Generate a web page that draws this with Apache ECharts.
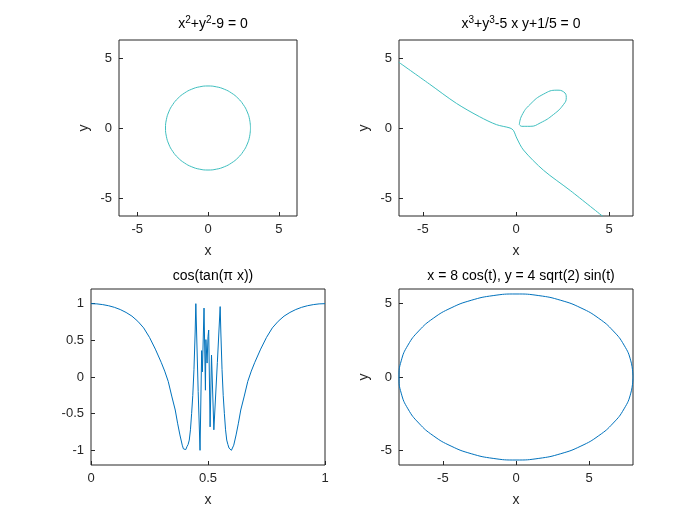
<!DOCTYPE html>
<html>
<head>
<meta charset="utf-8">
<script src="https://cdn.jsdelivr.net/npm/echarts@6/dist/echarts.min.js"></script>
<style>
html, body { margin: 0; padding: 0; background: #fff; }
#main { width: 700px; height: 525px; }
</style>
</head>
<body>
<div id="main"></div>
<script>
var circlePts = [[3, 0], [2.94, 0.59], [2.77, 1.15], [2.49, 1.67], [2.12, 2.12], [1.67, 2.49], [1.15, 2.77], [0.59, 2.94],
    [0, 3], [-0.59, 2.94], [-1.15, 2.77], [-1.67, 2.49], [-2.12, 2.12], [-2.49, 1.67], [-2.77, 1.15], [-2.94, 0.59],
    [-3, 0], [-2.94, -0.59], [-2.77, -1.15], [-2.49, -1.67], [-2.12, -2.12], [-1.67, -2.49], [-1.15, -2.77], [-0.59, -2.94],
    [0, -3], [0.59, -2.94], [1.15, -2.77], [1.67, -2.49], [2.12, -2.12], [2.49, -1.67], [2.77, -1.15], [2.94, -0.59], [3, 0]];
var foliumBranch = [[-6.3, 4.7], [-4.65, 3.14], [-3.2, 1.76], [-1.95, 0.8], [-1.05, 0.24], [-0.32, 0], [-0.14, -0.17],
    [0.04, -0.72], [0.4, -1.57], [1.48, -3.02], [2.92, -4.47], [4.68, -6.33]];
var foliumLoop = [[0.18, 0.24], [0.31, 0.89], [0.76, 1.69], [1.48, 2.42], [2.2, 2.7], [2.56, 2.58], [2.7, 2.17],
    [2.56, 1.69], [2.02, 0.97], [1.3, 0.36], [0.76, 0.12], [0.31, 0.12], [0.18, 0.24]];
var costanX = [0, 0.025, 0.05, 0.075, 0.1, 0.125, 0.15, 0.175, 0.2, 0.225, 0.25, 0.275, 0.3, 0.315, 0.33, 0.345, 0.36,
    0.37, 0.38, 0.39, 0.395, 0.4, 0.405, 0.41, 0.415, 0.42, 0.425, 0.43, 0.435, 0.44, 0.445, 0.448,
    0.458, 0.466, 0.473, 0.476, 0.483, 0.489, 0.491, 0.496, 0.5, 0.503, 0.509, 0.515, 0.525, 0.54, 0.552,
    0.555, 0.56, 0.565, 0.57, 0.575, 0.58, 0.585, 0.59, 0.595, 0.6, 0.605, 0.61, 0.62, 0.63, 0.64, 0.655,
    0.67, 0.685, 0.7, 0.725, 0.75, 0.775, 0.8, 0.825, 0.85, 0.875, 0.9, 0.925, 0.95, 0.975, 1];
var costanY = [1, 0.997, 0.987, 0.972, 0.95, 0.92, 0.88, 0.83, 0.76, 0.67, 0.54, 0.38, 0.2, 0.08, -0.06, -0.26, -0.45,
    -0.63, -0.79, -0.93, -0.98, -1, -0.99, -0.95, -0.92, -0.86, -0.72, -0.5, -0.25, 0.1, 0.6, 1,
    -0.2, -1, 0.36, 0.07, 0.94, -0.18, 0.51, 0.19, 0.55, 0.64, -0.68, 0.3, -0.72, 0.2, 0.96,
    0.6, 0.1, -0.25, -0.5, -0.72, -0.86, -0.92, -0.97, -0.99, -1, -0.98, -0.93, -0.79, -0.63, -0.45, -0.26,
    -0.06, 0.08, 0.2, 0.38, 0.54, 0.67, 0.76, 0.83, 0.88, 0.92, 0.95, 0.972, 0.987, 0.997, 1];
var ellipsePts = [[8, 0], [7.85, 1.1], [7.39, 2.17], [6.65, 3.14], [5.66, 4], [4.44, 4.71], [3.06, 5.23], [1.56, 5.55],
    [0, 5.66], [-1.56, 5.55], [-3.06, 5.23], [-4.44, 4.71], [-5.66, 4], [-6.65, 3.14], [-7.39, 2.17], [-7.85, 1.1],
    [-8, 0], [-7.85, -1.1], [-7.39, -2.17], [-6.65, -3.14], [-5.66, -4], [-4.44, -4.71], [-3.06, -5.23], [-1.56, -5.55],
    [0, -5.66], [1.56, -5.55], [3.06, -5.23], [4.44, -4.71], [5.66, -4], [6.65, -3.14], [7.39, -2.17], [7.85, -1.1], [8, 0]];
var ticks5 = [-5, 0, 5];
var ticksHalf = [-1, -0.5, 0, 0.5, 1];

var font = 'Liberation Sans';
var teal = '#3fbfbf';
var blue = '#0072bd';

function makeAxis(idx, min, max, name, ticks, gap) {
    return {
        type: 'value', gridIndex: idx, min: min, max: max,
        name: name, nameLocation: 'middle', nameGap: gap,
        nameTextStyle: { color: '#262626', fontSize: 14, fontFamily: font },
        axisLine: { show: false, onZero: false },
        axisTick: { inside: true, length: 4, customValues: ticks, lineStyle: { color: '#262626' } },
        axisLabel: { customValues: ticks, color: '#262626', fontSize: 13, fontFamily: font, margin: 7 },
        splitLine: { show: false }
    };
}
function curve(idx, data, color, smooth) {
    return {
        type: 'line', xAxisIndex: idx, yAxisIndex: idx, data: data, showSymbol: false,
        smooth: smooth, lineStyle: { color: color, width: 1 }, silent: true, animation: false
    };
}

var chart = echarts.init(document.getElementById('main'));
var gridStyle = { show: true, borderColor: '#262626', borderWidth: 1, backgroundColor: '#fff' };
var ctY = costanX.map(function (x, i) { return [x, costanY[i]]; });

chart.setOption({
    backgroundColor: '#fff',
    title: [
        { text: 'x{s|2}+y{s|2}-9 = 0', left: 208, top: 10 },
        { text: 'x{s|3}+y{s|3}-5 x y+1/5 = 0', left: 516, top: 10 },
        { text: 'cos(tan(π x))', left: 208, top: 264 },
        { text: 'x = 8 cos(t), y = 4 sqrt(2) sin(t)', left: 516, top: 264 }
    ].map(function (t) {
        t.textAlign = 'center';
        t.textStyle = { color: '#000', fontSize: 14, fontWeight: 'normal', fontFamily: font,
            rich: { s: { fontSize: 10, verticalAlign: 'top', padding: [0, 0, 8, 0], fontFamily: font } } };
        return t;
    }),
    grid: [
        Object.assign({ left: 119, top: 40, width: 178, height: 176 }, gridStyle),
        Object.assign({ left: 399, top: 40, width: 234, height: 176 }, gridStyle),
        Object.assign({ left: 91, top: 289, width: 234, height: 176 }, gridStyle),
        Object.assign({ left: 399, top: 289, width: 234, height: 176 }, gridStyle)
    ],
    xAxis: [
        makeAxis(0, -2 * Math.PI, 2 * Math.PI, 'x', ticks5, 28),
        makeAxis(1, -2 * Math.PI, 2 * Math.PI, 'x', ticks5, 28),
        makeAxis(2, 0, 1, 'x', [0, 0.5, 1], 28),
        makeAxis(3, -8, 8, 'x', ticks5, 28)
    ],
    yAxis: [
        makeAxis(0, -2 * Math.PI, 2 * Math.PI, 'y', ticks5, 28),
        makeAxis(1, -2 * Math.PI, 2 * Math.PI, 'y', ticks5, 28),
        makeAxis(2, -1.2, 1.2, '', ticksHalf, 28),
        makeAxis(3, -6, 6, 'y', ticks5, 28)
    ],
    series: [
        curve(0, circlePts, teal, true),
        curve(1, foliumBranch, teal, 0.3),
        curve(1, foliumLoop, teal, true),
        curve(2, ctY, blue, false),
        curve(3, ellipsePts, blue, true)
    ]
});
</script>
</body>
</html>
